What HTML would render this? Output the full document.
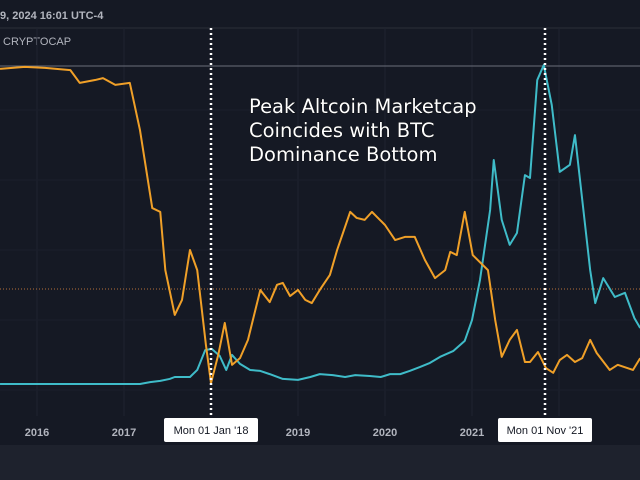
<!DOCTYPE html>
<html><head><meta charset="utf-8"><style>
body{margin:0;width:640px;height:480px;background:#1e222d;overflow:hidden;font-family:"Liberation Sans",sans-serif}
svg{display:block}
</style></head><body>
<svg width="640" height="480">
<rect x="0" y="0" width="640" height="445" fill="#151924"/>
<rect x="0" y="445" width="640" height="35" fill="#1e222d"/>
<line x1="0" y1="28" x2="640" y2="28" stroke="#2a2e39"/>
<text x="0" y="19" fill="#b2b5be" font-size="11" font-weight="bold">9, 2024 16:01 UTC-4</text>
<text x="3" y="45" fill="#b2b5be" font-size="11">CRYPTOCAP</text>
<g id="grid"></g>
<line x1="0" y1="66" x2="640" y2="66" stroke="#6b6f7a" stroke-width="1"/>
<line x1="0" y1="289" x2="640" y2="289" stroke="#b5703a" stroke-width="1" stroke-dasharray="1,2"/>
<g id="series"></g>
<line x1="211" y1="28" x2="211" y2="416" stroke="#fff" stroke-width="2.5" stroke-dasharray="2,3"/>
<line x1="545" y1="28" x2="545" y2="416" stroke="#fff" stroke-width="2.5" stroke-dasharray="2,3"/>
<g font-size="19.5" font-family="DejaVu Sans, sans-serif" fill="#fff" stroke="#000" stroke-width="0.6" paint-order="stroke">
<text x="249" y="113">Peak Altcoin Marketcap</text>
<text x="249" y="137">Coincides with BTC</text>
<text x="249" y="161">Dominance Bottom</text>
</g>
<g id="xaxis" font-size="11" font-weight="bold" fill="#b2b5be"></g>
<g>
<rect x="164" y="418" width="94" height="24" rx="2" fill="#fff"/>
<text x="211" y="434" text-anchor="middle" font-size="11" fill="#131722">Mon 01 Jan '18</text>
</g>
<g>
<rect x="498" y="418" width="94" height="24" rx="2" fill="#fff"/>
<text x="545" y="434" text-anchor="middle" font-size="11" fill="#131722">Mon 01 Nov '21</text>
</g>
</svg>
<script>
const tickYears=[2016,2017,2018,2019,2020,2021,2022];
const tickLabels=["2016","2017","","2019","2020","2021","2"];
const orangeMonths=[6.9,10.3,13.1,16.6,17.9,20.0,21.1,22.8,24.8,26.2,27.9,29.0,29.7,31.0,32.0,33.1,34.1,35.3,36.0,37.0,37.9,38.9,40.0,41.1,42.8,44.1,45.1,45.9,46.9,48.0,49.0,49.9,51.0,52.4,53.4,55.2,56.1,57.2,58.2,60.0,61.4,62.8,64.1,65.5,66.9,68.3,69.0,69.9,71.0,72.1,74.2,75.2,76.1,77.2,78.2,79.3,80.0,81.1,82.2,83.2,84.1,85.1,86.2,87.2,88.3,89.2,91.0,92.1,94.2,95.2];
const orangeValues=[98.8,99.4,99.1,98.4,94.4,95.3,95.9,93.8,94.4,79.7,55.3,54.1,35.9,21.9,26.6,42.2,35.9,12.5,0.6,9.4,19.4,6.3,8.4,14.1,29.7,25.9,31.3,31.9,27.8,29.7,26.6,25.6,29.7,34.4,42.2,54.1,52.2,51.6,54.1,50.0,45.3,46.3,46.3,39.1,33.4,35.9,41.6,40.6,54.1,40.6,35.9,20.3,8.8,14.1,17.2,7.2,7.2,10.3,5.3,3.8,7.8,9.4,7.2,8.4,14.1,10.0,4.7,6.3,4.7,8.4];
const tealMonths=[6.9,26.2,27.6,29.0,30.3,31.0,33.1,34.1,35.2,36.1,37.2,38.1,38.9,40.0,41.4,42.8,44.1,45.9,48.0,49.7,51.0,52.8,54.5,55.9,57.9,59.4,60.7,62.1,63.4,64.8,66.2,67.6,69.4,71.0,72.0,73.1,74.5,75.0,76.1,77.2,78.2,79.3,80.0,81.0,81.9,83.0,84.1,85.5,86.2,88.3,89.0,90.1,91.7,93.1,94.4,95.2];
const tealValues=[0.3,0.3,0.9,1.3,1.9,2.5,2.5,4.7,10.9,11.3,9.1,4.7,9.4,6.6,4.7,4.4,3.4,1.9,1.6,2.5,3.4,3.1,2.5,3.1,2.8,2.5,3.4,3.4,4.4,5.6,6.9,8.8,10.6,13.8,20.3,32.8,54.7,70.3,51.6,43.8,47.5,65.6,64.7,95.3,100,87.5,66.6,68.8,78.1,35.9,25.6,33.4,27.5,28.8,20.9,17.8];
const NS="http://www.w3.org/2000/svg";
function xScale(m){return 37+(m-12)*7.25;}
function yScale(v){return 385-v*3.2;}
function yearX(y){return xScale((y-2015)*12);}
const grid=document.getElementById('grid');
const xaxis=document.getElementById('xaxis');
tickYears.forEach((yr,i)=>{
  const x=yearX(yr);
  const l=document.createElementNS(NS,'line');
  l.setAttribute('x1',x);l.setAttribute('x2',x);l.setAttribute('y1',28);l.setAttribute('y2',416);
  l.setAttribute('stroke','#1e2230');
  
  
  grid.appendChild(l);
  if(tickLabels[i]){
    const t=document.createElementNS(NS,'text');
    t.setAttribute('x',x);t.setAttribute('y',436);t.setAttribute('text-anchor',i===6?'start':'middle');
    t.textContent=tickLabels[i];
    
    
    xaxis.appendChild(t);
  }
});
[110,180,250,320,390].forEach(y=>{
  const l=document.createElementNS(NS,'line');
  l.setAttribute('x1',0);l.setAttribute('x2',640);l.setAttribute('y1',y);l.setAttribute('y2',y);
  l.setAttribute('stroke','#1b1f2b');
  
  
  grid.appendChild(l);
});
function drawLine(ms,vs,color,name){
  const p=document.createElementNS(NS,'polyline');
  p.setAttribute('points',ms.map((m,i)=>xScale(m)+','+yScale(vs[i])).join(' '));
  p.setAttribute('fill','none');p.setAttribute('stroke',color);p.setAttribute('stroke-width','2');
  p.setAttribute('stroke-linejoin','round');
  
  
  document.getElementById('series').appendChild(p);
}
drawLine(tealMonths,tealValues,'#3fbcc9','altcoin-marketcap-line');
drawLine(orangeMonths,orangeValues,'#f0a028','btc-dominance-line');
</script>
</body></html>
